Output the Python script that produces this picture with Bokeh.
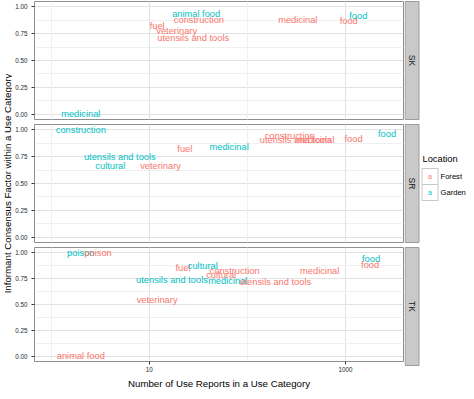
import numpy as np
from bokeh.plotting import figure
from bokeh.layouts import row, column
from bokeh.models import ColumnDataSource, Range1d, FixedTicker, Grid
from bokeh.core.properties import value
from bokeh.embed import file_html
from bokeh.resources import INLINE

# ---------------- data ----------------
panel_names = ["SK", "SR", "TK"]
locations = ["Forest", "Garden"]
location_colors = ["#F8766D", "#00BFC4"]

sk_category = ["animal food", "construction", "fuel", "veterinary", "utensils and tools",
               "medicinal", "medicinal", "food", "food"]
sk_location = ["Garden", "Forest", "Forest", "Forest", "Forest",
               "Garden", "Forest", "Forest", "Garden"]
sk_reports = [30, 32, 12, 19, 28, 2, 326, 1077, 1350]
sk_icf = [0.937, 0.878, 0.823, 0.775, 0.706, 0.0, 0.874, 0.868, 0.919]

sr_category = ["construction", "utensils and tools", "cultural", "veterinary", "fuel",
               "medicinal", "construction", "utensils and tools", "medicinal", "food", "food"]
sr_location = ["Garden", "Garden", "Garden", "Forest", "Forest",
               "Garden", "Forest", "Forest", "Forest", "Forest", "Garden"]
sr_reports = [2, 5, 4, 13, 23, 65, 270, 311, 484, 1206, 2650]
sr_icf = [1.0, 0.75, 0.667, 0.667, 0.818, 0.84, 0.94, 0.904, 0.91, 0.913, 0.958]

tk_category = ["poison", "poison", "fuel", "cultural", "utensils and tools", "veterinary",
               "animal food", "construction", "cultural", "medicinal", "utensils and tools",
               "medicinal", "food", "food"]
tk_location = ["Garden", "Forest", "Forest", "Garden", "Garden", "Forest",
               "Forest", "Forest", "Forest", "Garden", "Forest",
               "Forest", "Garden", "Forest"]
tk_reports = [2, 3, 22, 35, 17, 12, 2, 74, 54, 63, 192, 545, 1820, 1780]
tk_icf = [1.0, 1.0, 0.85, 0.876, 0.74, 0.545, 0.0, 0.82, 0.78, 0.73, 0.715, 0.82, 0.937, 0.88]

y_ticks = [0.0, 0.25, 0.5, 0.75, 1.0]
y_tick_labels = ["0.00", "0.25", "0.50", "0.75", "1.00"]
x_ticks = [10, 1000]
x_tick_labels = ["10", "1000"]
x_minor_ticks = [1, 100]

x_label = "Number of Use Reports in a Use Category"
y_label = "Informant Consensus Factor within a Use Category"
legend_title = "Location"

panel_data = [
    (sk_category, sk_location, sk_reports, sk_icf),
    (sr_category, sr_location, sr_reports, sr_icf),
    (tk_category, tk_location, tk_reports, tk_icf),
]

# ---------------- styles / layout ----------------
FONT_NAME = "Liberation Sans"
FONT = value(FONT_NAME)
TITLE_W = 12
LEFT = 20
FRAME_H = 118
PANEL_W = 392
RIGHT_W = 62

lx_lo, lx_hi = np.log10(1), np.log10(2630)
pad = 0.05 * (lx_hi - lx_lo)
x_lo, x_hi = 10 ** (lx_lo - pad), 10 ** (lx_hi + pad)
y_minor = list((np.array(y_ticks[:-1]) + np.array(y_ticks[1:])) / 2)


def style_axis(ax):
    ax.axis_line_color = None
    ax.major_tick_in = 0
    ax.major_tick_out = 3
    ax.major_tick_line_color = "#333333"
    ax.minor_tick_line_color = None
    ax.major_label_text_font = FONT_NAME
    ax.major_label_text_font_size = "6.3px"
    ax.major_label_text_color = "#1f1f1f"


def make_panel(i):
    cats, locs, reps, icf = panel_data[i]
    last = (i == len(panel_data) - 1)
    top = 1
    bottom = 26 if last else 4
    p = figure(width=PANEL_W, height=top + FRAME_H + bottom,
               x_range=Range1d(x_lo, x_hi), y_range=Range1d(-0.05, 1.05),
               x_axis_type="log", x_axis_location="below" if last else None,
               output_backend="svg", toolbar_location=None,
               min_border_left=LEFT, min_border_right=1,
               min_border_top=top, min_border_bottom=bottom)
    p.background_fill_color = "white"
    p.border_fill_color = "white"
    p.outline_line_color = "#8f8f8f"
    p.outline_line_width = 1

    for g in p.ygrid:
        g.ticker = FixedTicker(ticks=y_ticks, minor_ticks=y_minor)
        g.grid_line_color = "#e2e2e2"
        g.minor_grid_line_color = "#f0f0f0"
    if last:
        for g in p.xgrid:
            g.ticker = FixedTicker(ticks=x_ticks, minor_ticks=x_minor_ticks)
            g.grid_line_color = "#e2e2e2"
            g.minor_grid_line_color = "#f0f0f0"
    else:
        g = Grid(dimension=0, ticker=FixedTicker(ticks=x_ticks, minor_ticks=x_minor_ticks),
                 grid_line_color="#e2e2e2", minor_grid_line_color="#f0f0f0")
        p.add_layout(g)

    ya = p.yaxis[0]
    ya.ticker = FixedTicker(ticks=y_ticks)
    ya.major_label_overrides = {t: l for t, l in zip(y_ticks, y_tick_labels)}
    style_axis(ya)
    ya.major_label_standoff = 4

    if last:
        xa = p.xaxis[0]
        xa.ticker = FixedTicker(ticks=x_ticks)
        xa.major_label_overrides = {t: l for t, l in zip(x_ticks, x_tick_labels)}
        style_axis(xa)
        xa.major_label_standoff = 2
        xa.axis_label = x_label
        xa.axis_label_text_font = FONT_NAME
        xa.axis_label_text_font_size = "9.7px"
        xa.axis_label_text_font_style = "normal"
        xa.axis_label_text_color = "black"
        xa.axis_label_standoff = 3

    colors = [location_colors[locations.index(l)] for l in locs]
    src = ColumnDataSource(dict(x=reps, y=icf, text=cats, color=colors))
    p.text(x="x", y="y", text="text", source=src, text_color="color",
           text_font=FONT, text_font_size="9.3px",
           text_align="center", text_baseline="middle")
    return p


panels = [make_panel(i) for i in range(3)]
total_h = sum(p.height for p in panels)

strip_top, strip_bot, strip_mid = [], [], []
off = 0
for p in panels:
    t = off + p.min_border_top
    strip_top.append(t)
    strip_bot.append(t + FRAME_H)
    strip_mid.append(t + FRAME_H / 2)
    off += p.height


def blank_fig(w):
    f = figure(width=w, height=total_h, x_range=Range1d(0, w),
               y_range=Range1d(total_h, 0), output_backend="svg",
               toolbar_location=None,
               min_border_left=0, min_border_right=0, min_border_top=0, min_border_bottom=0,
               x_axis_location=None, y_axis_location=None)
    f.xgrid.visible = False
    f.ygrid.visible = False
    f.outline_line_color = None
    f.background_fill_color = "white"
    f.border_fill_color = "white"
    return f


# ---------------- y title figure ----------------
lf = blank_fig(TITLE_W)
lf.text(x=[6.5], y=[(strip_top[0] + strip_bot[-1]) / 2], text=[y_label], angle=np.pi / 2,
        text_font=FONT, text_font_size="9.7px", text_color="black",
        text_align="center", text_baseline="middle")

# ---------------- strips + legend figure ----------------
rf = blank_fig(RIGHT_W)
rf.quad(left=0.5, right=14.5, top=strip_top, bottom=strip_bot,
        fill_color="#c9c9c9", line_color="#9c9c9c", line_width=1)
rf.text(x=7.5, y=strip_mid, text=panel_names, angle=-np.pi / 2,
        text_font=FONT, text_font_size="8.5px", text_color="#1a1a1a",
        text_align="center", text_baseline="middle")

rf.text(x=[18], y=[158], text=[legend_title], text_font=FONT, text_font_size="9.3px",
        text_color="black", text_align="left", text_baseline="middle")
key_top = [168, 184]
rf.quad(left=17.5, right=33.5, top=key_top, bottom=[k + 16 for k in key_top],
        fill_color="white", line_color="#c8c8c8", line_width=1)
rf.text(x=25.5, y=[k + 8 for k in key_top], text=["a", "a"], text_color=location_colors,
        text_font=FONT, text_font_size="7px", text_align="center", text_baseline="middle")
rf.text(x=36, y=[k + 8 for k in key_top], text=locations, text_font=FONT,
        text_font_size="7.6px", text_color="black", text_align="left", text_baseline="middle")

layout = row(lf, column(*panels, spacing=0), rf, spacing=0)

open("out.html", "w").write(file_html(layout, INLINE))
